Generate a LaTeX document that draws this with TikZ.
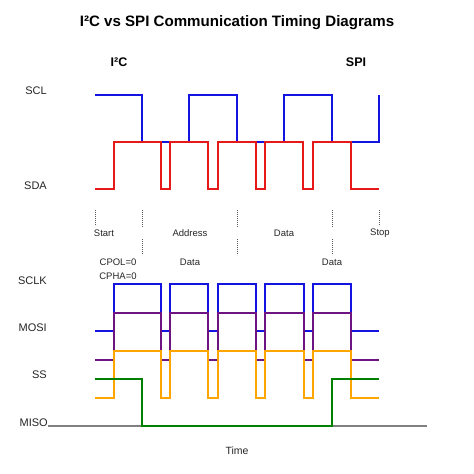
\documentclass[tikz,border=0pt]{standalone}
\usepackage{fontspec}
\setmainfont{Liberation Sans}
\definecolor{sclblue}{RGB}{20,20,225}
\definecolor{sdared}{RGB}{230,25,25}
\definecolor{mosipurple}{RGB}{110,20,130}
\definecolor{ssorange}{RGB}{255,165,0}
\definecolor{misogreen}{RGB}{0,128,0}
\definecolor{axisgray}{RGB}{128,128,128}
\begin{document}
\begin{tikzpicture}[x=1pt,y=-1pt,
  wave/.style={line width=1.8pt,line join=miter},
  siglabel/.style={anchor=east,font=\fontsize{11}{13}\selectfont,text=black!85,inner sep=0pt},
  phase/.style={font=\fontsize{9.5}{11}\selectfont,text=black!85,inner sep=0pt},
  heading/.style={font=\bfseries\fontsize{12.5}{15}\selectfont,inner sep=0pt},
  marker/.style={dash pattern=on 0.9pt off 1.1pt,line width=0.9pt,black!65}]
\useasboundingbox (0,0) rectangle (474,474);
\fill[white] (0,0) rectangle (474,474);
% titles
\node[font=\bfseries\fontsize{15.1}{18}\selectfont,inner sep=0pt] (title) at (237,23) {I²C vs SPI Communication Timing Diagrams};
\node[heading] (i2c) at (119,62) {I²C};
\node[heading] (spi) at (356,62) {SPI};
% signal labels
\node[siglabel] (scl) at (47,91) {SCL};
\node[siglabel] (sda) at (47,186) {SDA};
\node[siglabel] (sclk) at (47,281) {SCLK};
\node[siglabel] (mosi) at (47,328) {MOSI};
\node[siglabel] (ss) at (47,375) {SS};
\node[siglabel] (miso) at (48,423) {MISO};
% I2C waveforms
\draw[wave,sclblue] (95,95) -- (142,95) -- (142,142) -- (189,142) -- (189,95) -- (237,95) -- (237,142)
  -- (284,142) -- (284,95) -- (332,95) -- (332,142) -- (379,142) -- (379,95);
\draw[wave,sdared] (95,189) -- (114,189) -- (114,142) -- (161,142) -- (161,189) -- (170,189) -- (170,142)
  -- (208,142) -- (208,189) -- (218,189) -- (218,142) -- (256,142) -- (256,189) -- (265,189) -- (265,142)
  -- (303,142) -- (303,189) -- (313,189) -- (313,142) -- (351,142) -- (351,189) -- (379,189);
% markers
\draw[marker] (95,210) -- (95,226);
\draw[marker] (142,210) -- (142,227);
\draw[marker] (142,239) -- (142,255);
\draw[marker] (237,210) -- (237,227);
\draw[marker] (237,239) -- (237,255);
\draw[marker] (332,210) -- (332,227);
\draw[marker] (332,239) -- (332,255);
\draw[marker] (379,210) -- (379,226);
% phase labels
\node[phase] (start) at (104,233) {Start};
\node[phase] (address) at (190,233) {Address};
\node[phase] (data1) at (284,233) {Data};
\node[phase] (stop) at (380,233) {Stop};
\node[phase] (cpol) at (118,262) {CPOL=0};
\node[phase] (cpha) at (118,276) {CPHA=0};
\node[phase] (data2) at (190,262) {Data};
\node[phase] (data3) at (332,262) {Data};
% SPI waveforms
\draw[wave,sclblue] (95,331) -- (114,331) -- (114,284) -- (161,284) -- (161,331) -- (170,331) -- (170,284)
  -- (208,284) -- (208,331) -- (218,331) -- (218,284) -- (256,284) -- (256,331) -- (265,331) -- (265,284)
  -- (304,284) -- (304,331) -- (313,331) -- (313,284) -- (351,284) -- (351,331) -- (379,331);
\draw[wave,mosipurple] (95,360) -- (114,360) -- (114,313) -- (161,313) -- (161,360) -- (170,360) -- (170,313)
  -- (208,313) -- (208,360) -- (218,360) -- (218,313) -- (256,313) -- (256,360) -- (265,360) -- (265,313)
  -- (304,313) -- (304,360) -- (313,360) -- (313,313) -- (351,313) -- (351,360) -- (379,360);
\draw[wave,ssorange] (95,398) -- (114,398) -- (114,351) -- (161,351) -- (161,398) -- (170,398) -- (170,351)
  -- (208,351) -- (208,398) -- (218,398) -- (218,351) -- (256,351) -- (256,398) -- (265,398) -- (265,351)
  -- (304,351) -- (304,398) -- (313,398) -- (313,351) -- (351,351) -- (351,398) -- (379,398);
\coordinate (axisend) at (427,426);
\draw[line width=1.3pt,axisgray] (miso.east) ++(0,3) -- (axisend);
\draw[wave,misogreen] (95,379) -- (142,379) -- (142,426) -- (332,426) -- (332,379) -- (379,379);
\node[phase,font=\fontsize{10.5}{12}\selectfont] (time) at (237,451) {Time};
\end{tikzpicture}
\end{document}
